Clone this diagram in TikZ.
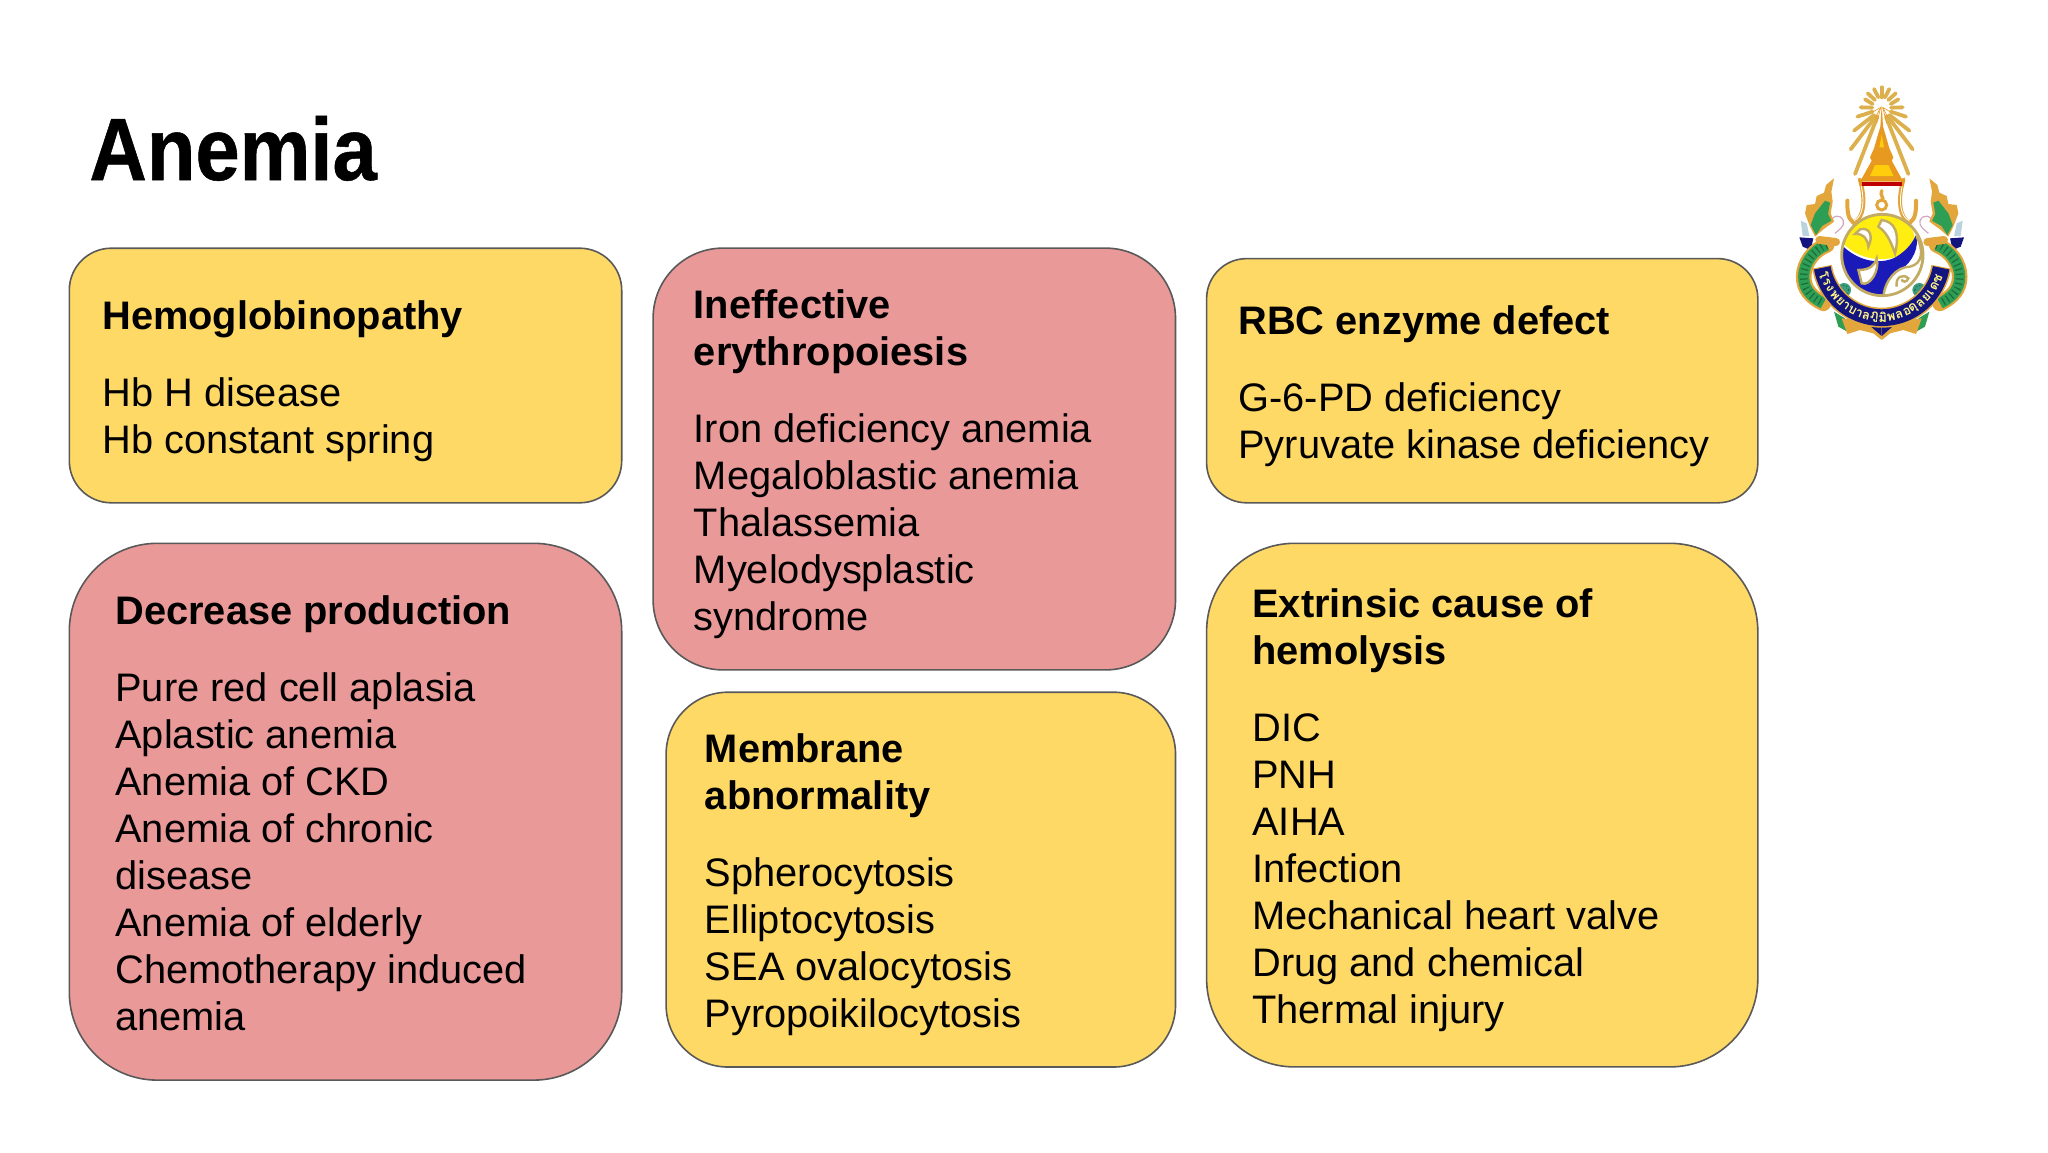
\documentclass[tikz,border=0pt]{standalone}
\usepackage{fontspec}
\setmainfont{Liberation Sans}
\newfontfamily\titlefont[FakeStretch=0.90,FakeBold=0.6]{Liberation Sans Bold}
\newfontfamily\thaifont[Script=Thai]{Loma}
\definecolor{boxyellow}{HTML}{FFD966}
\definecolor{boxred}{HTML}{EA9999}
\definecolor{boxline}{HTML}{595959}
\definecolor{emgold}{HTML}{E2A63C}
\definecolor{emorange}{HTML}{E8991F}
\definecolor{emray}{HTML}{DDB04E}
\definecolor{emgreen}{HTML}{2F9E55}
\definecolor{emdark}{HTML}{1B6B3C}
\definecolor{emnavy}{HTML}{14147F}
\definecolor{emblue}{HTML}{1A1AB8}
\definecolor{emyellow}{HTML}{FFEE10}
\definecolor{emtan}{HTML}{C2AB62}
\definecolor{emteal}{HTML}{3C9C80}
\tikzset{
  panel/.style={draw=boxline,line width=.8pt,rectangle,inner sep=0pt},
  yellowpanel/.style={panel,fill=boxyellow},
  redpanel/.style={panel,fill=boxred},
  paneltext/.style={anchor=north west,inner sep=0pt,align=left,yshift=20pt,
    font=\fontsize{19.9}{23.5}\selectfont},
  emray/.style={draw=emray,line width=1.9pt,line cap=round},
}
\newcommand{\fl}{\rule{0pt}{20pt}}
\newcommand{\hd}[1]{\textbf{#1}}
\newcommand{\gap}{\\[15pt]}
\newcommand{\emHalf}{%
  % rays
  \foreach \a/\b/\c/\d in {355/82/342/57,345/90/323/70,338/102/315/88,337/113/302/112,338/125/292/140}
    \draw[emray] (\a,\b) -- (\c,\d);
  \foreach \a/\b/\c/\d in {342/135/282/182,348/138/272/238,352/140/285/312}
    \draw[emray] (\a,\b) -- (\c,\d);
  \foreach \c/\d in {340/125,345/145,350/160}
    \draw[emorange,line width=.3pt] (362,112) -- (\c,\d);
  % hanging hook
  \draw[emgold,line width=2pt,line cap=round] (300,330) .. controls (318,390) and (312,445) .. (280,458) .. controls (262,445) and (262,420) .. (262,392);
  \draw[white,line width=.4pt] (300,335) .. controls (316,390) and (310,440) .. (282,452);
  \fill[emorange] (295,322) -- (312,345) -- (300,350) -- cycle;
  % pink curl
  \draw[magenta!35!gray!60,line width=.6pt] (205,462) .. controls (218,435) and (240,430) .. (250,452) .. controls (255,470) and (235,480) .. (225,490);
  % naga crest
  \fill[emgold] (222,325) -- (214,365) -- (218,395) -- (212,430) -- (222,455) -- (190,478) -- (165,500) -- (150,470) -- (135,430) -- (140,405) -- (165,402) -- (170,378) -- (192,368) -- (198,345) -- cycle;
  \fill[emgreen] (165,430) -- (195,392) -- (210,398) -- (204,432) -- (214,452) -- (186,468) -- (168,495) -- (152,465) -- cycle;
  \fill[cyan!40!gray!45] (122,452) -- (140,460) -- (148,498) -- (128,498) -- cycle;
  \fill[emnavy] (118,502) -- (160,505) -- (152,540) -- (128,530) -- cycle;
  % naga body
  \draw[emgold,line width=7.8pt,line cap=round] (200,525) .. controls (160,540) and (131,580) .. (131,620) .. controls (131,655) and (150,680) .. (190,700);
  \draw[emgreen,line width=5.6pt] (200,525) .. controls (160,540) and (131,580) .. (131,620) .. controls (131,655) and (150,680) .. (190,700);
  \draw[emdark,line width=3.8pt,dash pattern=on .6pt off 1.8pt] (200,525) .. controls (160,540) and (131,580) .. (131,620) .. controls (131,655) and (150,680) .. (190,700);
  \draw[emgold,line width=4pt,line cap=round] (178,510) -- (228,516);
  % small green tail pieces
  \fill[emteal] (252,660) circle[radius=21];
  \draw[emdark,line width=.6pt,dash pattern=on .5pt off 1.2pt] (252,660) circle[radius=14];
  \fill[emgreen] (222,725) -- (255,745) -- (262,785) -- (235,770) -- cycle;
  % lower gold wing
  \fill[emgold] (245,745) -- (262,792) -- (300,780) -- (340,790) -- (365,810) -- (365,760) -- cycle;
  \fill[emnavy] (310,750) -- (365,798) -- (365,750) -- cycle;
}
\begin{document}
\begin{tikzpicture}[x=.5pt,y=-.5pt]
\useasboundingbox (0,0) rectangle (2048,1152);
\node[anchor=base west,inner sep=0pt,font=\titlefont\fontsize{44.2}{48}\selectfont] (title) at (89,180) {Anemia};

\node[yellowpanel,minimum width=276.2pt,minimum height=127.3pt,rounded corners=21pt] (b1) at (345.5,375.5) {};
\node[redpanel,minimum width=276.2pt,minimum height=268.4pt,rounded corners=44pt] (b2) at (345.5,811.7) {};
\node[redpanel,minimum width=261.2pt,minimum height=210.9pt,rounded corners=35pt] (b3) at (914.3,459) {};
\node[yellowpanel,minimum width=254.7pt,minimum height=187.4pt,rounded corners=31pt] (b4) at (920.8,879.6) {};
\node[yellowpanel,minimum width=275.6pt,minimum height=122.1pt,rounded corners=20pt] (b5) at (1482.2,380.7) {};
\node[yellowpanel,minimum width=275.6pt,minimum height=261.8pt,rounded corners=44pt] (b6) at (1482.2,805.1) {};

\node[paneltext] (t1) at (102,328.7) {\fl\hd{Hemoglobinopathy}\gap Hb H disease\\Hb constant spring};
\node[paneltext] (t2) at (115,623.7) {\fl\hd{Decrease production}\gap Pure red cell aplasia\\Aplastic anemia\\Anemia of CKD\\Anemia of chronic\\disease\\Anemia of elderly\\Chemotherapy induced\\anemia};
\node[paneltext] (t3) at (693.5,317.7) {\fl\hd{Ineffective}\\\hd{erythropoiesis}\gap Iron deficiency anemia\\Megaloblastic anemia\\Thalassemia\\Myelodysplastic\\syndrome};
\node[paneltext] (t4) at (704.5,761.7) {\fl\hd{Membrane}\\\hd{abnormality}\gap Spherocytosis\\Elliptocytosis\\SEA ovalocytosis\\Pyropoikilocytosis};
\node[paneltext] (t5) at (1238,333.7) {\fl\hd{RBC enzyme defect}\gap G-6-PD deficiency\\Pyruvate kinase deficiency};
\node[paneltext] (t6) at (1252,616.7) {\fl\hd{Extrinsic cause of}\\\hd{hemolysis}\gap DIC\\PNH\\AIHA\\Infection\\Mechanical heart valve\\Drug and chemical\\Thermal injury};

% emblem, in units of one third of a pixel
\begin{scope}[shift={(1760,70)},x=.16667pt,y=-.16667pt]
  \emHalf
  \begin{scope}[shift={(730,0)},xscale=-1]
    \emHalf
  \end{scope}
  % centre petal and spire
  \draw[emray] (365,52) -- (365,82);
  \fill[emorange] (365,105) -- (369,170) -- (378,200) -- (388,235) -- (400,262) -- (395,272) -- (430,335) -- (300,335) -- (335,272) -- (330,262) -- (342,235) -- (352,200) -- (361,170) -- cycle;
  \fill[emyellow!70!orange] (365,195) -- (372,232) -- (358,232) -- cycle;
  \fill[emyellow!70!orange] (345,285) -- (385,285) -- (400,318) -- (330,318) -- cycle;
  \fill[red!75!black] (305,335) rectangle (425,347);
  % ornament above the circle
  \draw[emgold,line width=1.5pt] (365,405) circle[radius=15];
  \draw[emgold,line width=1.7pt,line cap=round] (365,362) .. controls (358,378) and (375,382) .. (365,392);
  % circle
  \fill[white] (367,555) circle[radius=122];
  \begin{scope}
    \clip (367,555) circle[radius=122];
    \fill[emyellow] (250,520) .. controls (265,460) and (330,430) .. (380,433) .. controls (430,440) and (460,470) .. (465,505) .. controls (440,545) and (420,560) .. (390,565) .. controls (340,575) and (280,555) .. (250,520) -- cycle;
    \fill[emblue] (245,525) .. controls (290,570) and (350,585) .. (400,565) .. controls (430,550) and (455,525) .. (468,495) .. controls (478,530) and (460,575) .. (420,600) .. controls (395,620) and (385,650) .. (370,680) -- (300,660) .. controls (260,630) and (240,575) .. (245,525) -- cycle;
    \draw[emtan,fill=white,line width=1.2pt] (300,478) .. controls (330,470) and (340,500) .. (325,530) .. controls (322,505) and (310,490) .. (285,492) -- cycle;
    \draw[emtan,fill=white,line width=1.2pt] (365,450) .. controls (405,455) and (420,490) .. (405,550) .. controls (395,525) and (385,490) .. (355,470) -- cycle;
    \draw[emtan,fill=white,line width=1.2pt] (295,600) .. controls (330,600) and (345,585) .. (350,565) .. controls (360,600) and (330,650) .. (305,640) -- cycle;
    \draw[emtan,fill=white,line width=1.2pt] (370,680) .. controls (375,630) and (410,590) .. (450,590) .. controls (490,580) and (490,540) .. (470,500) .. controls (510,560) and (490,680) .. (370,680) -- cycle;
    \draw[emtan,line width=1.2pt] (410,650) .. controls (405,620) and (430,610) .. (445,625) .. controls (440,640) and (425,635) .. (425,628);
  \end{scope}
  \draw[emtan,line width=1.4pt] (367,555) circle[radius=122];
  % ribbon
  \draw[emgold,line width=10pt] plot[domain=189:351,samples=50] ({365+181*cos(\x)},{562-181*sin(\x)});
  \draw[emnavy,line width=8.4pt] plot[domain=190:350,samples=50] ({365+181*cos(\x)},{562-181*sin(\x)});
  \foreach \t/\a in {โ/197,ร/204,ง/211,พ/219,ย/227,า/234,บ/241,า/248,ล/255,ภู/263,มิ/271,พ/279,ล/287,อ/295,ดุ/302,ล/310,ย/318,เ/324,ด/331,ช/339}
    \node[inner sep=0pt,text=emyellow!50!white,font=\thaifont\bfseries\fontsize{6.4}{7}\selectfont,rotate=\a+90] (th\a) at ({365+181*cos(\a)},{562-181*sin(\a)}) {\t};
\end{scope}
\end{tikzpicture}
\end{document}
